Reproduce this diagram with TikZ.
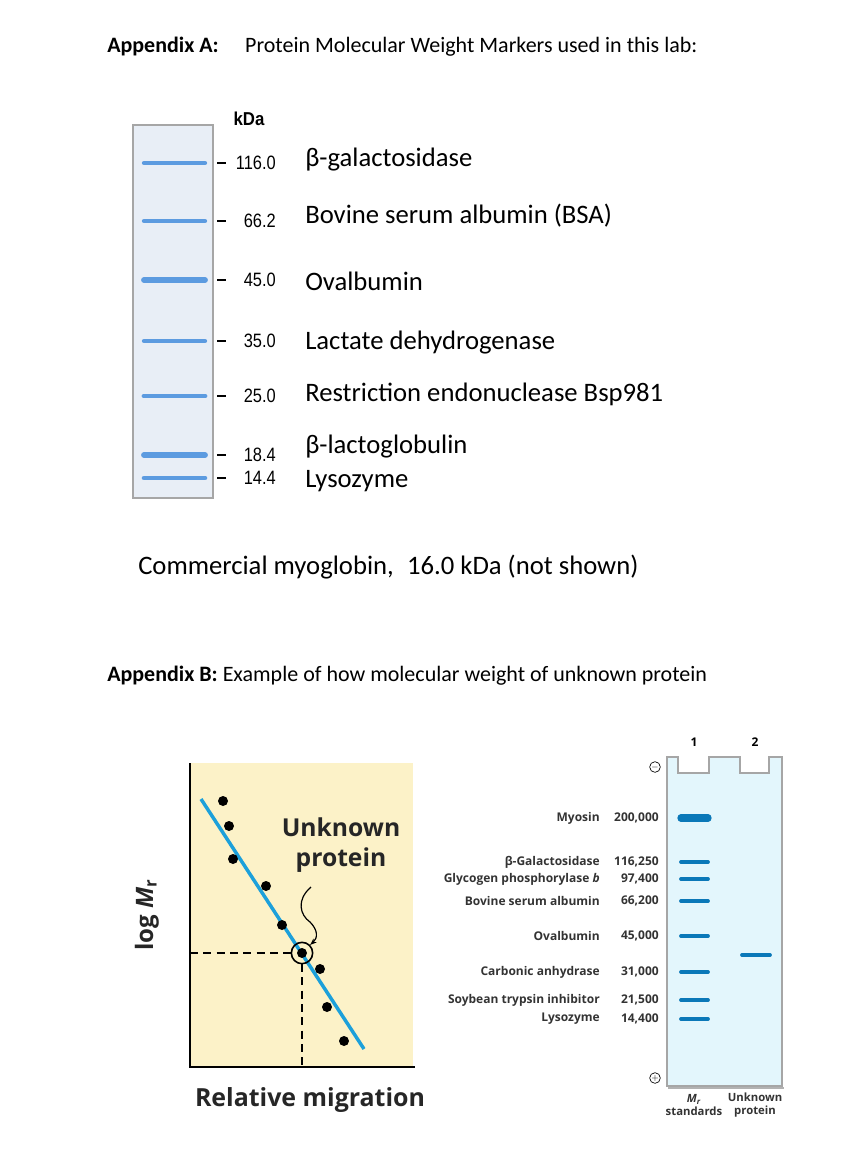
\documentclass[tikz,border=0pt]{standalone}
\usepackage{fontspec}
\setmainfont{Carlito}
\newfontfamily\osans{Open Sans}
\newfontfamily\lsans{Liberation Sans}
\usetikzlibrary{arrows.meta}
\definecolor{bandA}{HTML}{5C9BE0}
\definecolor{gelA}{HTML}{E8EEF6}
\definecolor{bandB}{HTML}{0A78B8}
\definecolor{gelB}{HTML}{E3F6FC}
\definecolor{plotbg}{HTML}{FCF2C8}
\definecolor{fitline}{HTML}{1CA0DA}
\tikzset{
  lbl/.style={anchor=west,inner sep=0pt,font=\fontsize{20}{22}\selectfont},
  num/.style={anchor=east,inner sep=0pt,xscale=0.85,font=\lsans\fontsize{14.5}{16}\selectfont},
  bandastyle/.style={bandA,line cap=round},
  bandbstyle/.style={line width=2.8pt,bandB,line cap=round},
  glbl/.style={anchor=east,inner sep=0pt,font=\osans\bfseries\fontsize{9}{10}\selectfont,text=black!80},
  dot/.style={circle,fill=black,inner sep=0pt,minimum size=7.5pt},
}
\begin{document}
\begin{tikzpicture}[x=0.75pt,y=-0.75pt]
\useasboundingbox (0,0) rectangle (862,1158);
% Appendix A
\node[anchor=west,inner sep=0pt,font=\fontsize{16.5}{18}\selectfont] (hA) at (107,47) {\textbf{Appendix A:}\hspace{1.2em}Protein Molecular Weight Markers used in this lab:};
\draw[gray!70,fill=gelA,line width=0.8pt] (133,125) rectangle (213,498);
\node[inner sep=0pt,xscale=0.9,font=\lsans\bfseries\fontsize{14}{16}\selectfont] (kda) at (249,119) {kDa};
\foreach \y/\ly/\n/\t/\w in {163/160/116.0/β-galactosidase/3.2, 221/216/66.2/Bovine serum albumin (BSA)/3.2, 280/281/45.0/Ovalbumin/4.4, 341/343/35.0/Lactate dehydrogenase/3.2, 396/394/25.0/Restriction endonuclease Bsp981/3.6, 455/447/18.4/β-lactoglobulin/4.4, 478/481/14.4/Lysozyme/3.4}{
  \draw[bandastyle,line width=\w pt] (144,\y) -- (205,\y);
  \draw[line width=1pt] (217,\y) -- (226,\y);
  \node[num] at (276,\y) {\n};
  \node[lbl] at (305,\ly) {\t};
}
\node[lbl] (myo) at (138,567) {Commercial myoglobin,\enspace 16.0 kDa (not shown)};
% Appendix B
\node[anchor=west,inner sep=0pt,font=\fontsize{16.5}{18}\selectfont] (hB) at (107,676) {\textbf{Appendix B:} Example of how molecular weight of unknown protein};
% plot
\fill[plotbg] (190,763) rectangle (413,1067);
\draw[line width=1.2pt] (190,763) -- (190,1067) -- (415,1067);
\draw[fitline,line width=2.6pt] (201,799) -- (364,1049);
\draw[dashed,dash pattern=on 6pt off 4pt,line width=1pt] (190,953) -- (291,953);
\draw[dashed,dash pattern=on 6pt off 4pt,line width=1pt] (302,964) -- (302,1067);
\foreach \x/\y in {223/801,229/826,233/859,266/886,282/925,302/953,320/969,327/1007,344/1041}
  \node[dot] at (\x,\y) {};
\node[circle,draw,line width=1.2pt,minimum size=16pt,inner sep=0pt] (unk) at (302,953) {};
\node[align=center,inner sep=0pt,font=\osans\bfseries\fontsize{18.5}{22}\selectfont,text=black!85] (ut) at (341,845) {Unknown\\protein};
\draw[-{Stealth[length=5pt]},line width=0.9pt] (311,887) .. controls (296,900) and (300,915) .. (310,922) .. controls (318,930) and (318,938) .. (unk.north east);
\node[inner sep=0pt,font=\osans\bfseries\fontsize{18.7}{22}\selectfont,text=black!85] (rm) at (310,1100) {Relative migration};
\node[rotate=90,inner sep=0pt,font=\osans\bfseries\fontsize{18}{20}\selectfont,text=black!85] (ly) at (147,915) {log \textit{M}\textsubscript{r}};
% right gel
\draw[gray!60,line width=1.6pt] (669,759) -- (669,1088) -- (784,1088);
\draw[gray!70,fill=gelB,line width=0.8pt] (667,757) -- (678,757) -- (678,773) -- (709,773) -- (709,757) -- (740,757) -- (740,773) -- (769,773) -- (769,757) -- (782,757) -- (782,1086) -- (667,1086) -- cycle;
\node[font=\osans\bfseries\fontsize{9}{10}\selectfont] (l1) at (694,742) {1};
\node[font=\osans\bfseries\fontsize{9}{10}\selectfont] (l2) at (755,742) {2};
\node[circle,draw,line width=0.5pt,inner sep=0pt,minimum size=8pt,font=\fontsize{6}{6}\selectfont] (minus) at (655,767) {$-$};
\node[circle,draw,line width=0.5pt,inner sep=0pt,minimum size=8pt,font=\fontsize{6}{6}\selectfont] (plus) at (655,1078) {$+$};
\foreach \y/\n/\v/\w in {818/Myosin/200{,}000/5.5, 862/β-Galactosidase/116{,}250/2.8, 879/Glycogen phosphorylase \textit{b}/97{,}400/2.8, 901/Bovine serum albumin/66{,}200/2.8, 936/Ovalbumin/45{,}000/2.8, 972/Carbonic anhydrase/31{,}000/2.8, 1000/Soybean trypsin inhibitor/21{,}500/2.8, 1019/Lysozyme/14{,}400/2.8}{
  \draw[bandbstyle,line width=\w pt] (681,\y) -- (708,\y);
  \node[glbl] at (600,\y) {\n};
  \node[glbl] at (659,\y) {\v};
}
\draw[bandbstyle] (742,955) -- (770,955);
\node[align=center,inner sep=0pt,font=\osans\bfseries\fontsize{8.5}{9.5}\selectfont,text=black!80] (ms) at (694,1105) {\textit{M}\textsubscript{\textit{r}}\\standards};
\node[align=center,inner sep=0pt,font=\osans\bfseries\fontsize{8.5}{9.5}\selectfont,text=black!80] (up) at (755,1105) {Unknown\\protein};
\end{tikzpicture}
\end{document}
